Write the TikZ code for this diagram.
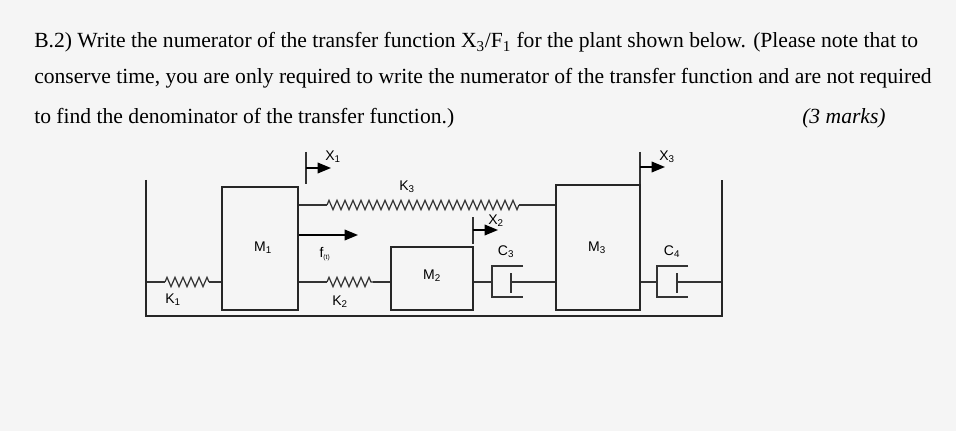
\documentclass[tikz,border=0pt]{standalone}
\usepackage{fontspec}
\setmainfont{Liberation Serif}
\newfontfamily\lab{Liberation Sans}
\usetikzlibrary{decorations.pathmorphing,arrows.meta}
\begin{document}
\begin{tikzpicture}[x=0.75pt,y=-0.75pt,
  ln/.style={line width=1.6pt,draw=black!85},
  mass/.style={draw=black!85,line width=1.8pt,inner sep=0},
  spr/.style={line width=0.9pt,draw=black!80,decorate,decoration={zigzag,segment length=6pt,amplitude=3.5pt}},
  wire/.style={line width=1pt,draw=black!80},
  tx/.style={font=\fontsize{16.2pt}{19pt}\selectfont,anchor=base west,inner sep=0},
  lb/.style={font=\lab\fontsize{10.5pt}{12pt}\selectfont,inner sep=0},
  arr/.style={line width=1pt,-{Triangle[length=10pt,width=8pt]}}]
\fill[white!96!black] (0,0) rectangle (956,431);
\useasboundingbox (0,0) rectangle (956,431);
\node[tx] (t1) at (34,48) {B.2) Write the numerator of the transfer function X\textsubscript{3}/F\textsubscript{1} for the plant shown below. (Please note that to};
\node[tx] (t2) at (34,84) {conserve time, you are only required to write the numerator of the transfer function and are not required};
\node[tx] (t3) at (34,124) {to find the denominator of the transfer function.)};
\node[tx] (t4) at (802,124) {\itshape(3 marks)};
% frame
\draw[ln] (146,180) -- (146,316) -- (722,316) -- (722,180);
% masses
\node[mass,minimum width=76*0.75pt,minimum height=123*0.75pt] (m1) at (260,248.5) {};
\node[mass,minimum width=82*0.75pt,minimum height=63*0.75pt] (m2) at (432,278.5) {};
\node[mass,minimum width=84*0.75pt,minimum height=125*0.75pt] (m3) at (598,247.5) {};
\node[lb] at (263,248) {M\textsubscript{1}};
\node[lb] at (432,276) {M\textsubscript{2}};
\node[lb] at (597,248) {M\textsubscript{3}};
% K1
\coordinate (w1) at (147,282);
\draw[wire] (w1) -- (165,282);
\draw[spr] (165,282) -- (209,282);
\draw[wire] (209,282) -- (m1.west |- 0,282);
\node[lb] at (173,300) {K\textsubscript{1}};
% K2
\draw[wire] (m1.east |- 0,282) -- (327,282);
\draw[spr] (327,282) -- (373,282);
\draw[wire] (373,282) -- (m2.west |- 0,282);
\node[lb] at (340,302) {K\textsubscript{2}};
% K3
\draw[wire] (m1.east |- 0,205) -- (327,205);
\draw[spr] (327,205) -- (519,205);
\draw[wire] (519,205) -- (m3.west |- 0,205);
\node[lb] at (407,187) {K\textsubscript{3}};
% force
\draw[arr] (m1.east |- 0,235) -- (358,235);
\node[lb] at (325,254) {f\textsubscript{\tiny(t)}};
% C3
\draw[wire] (m2.east |- 0,282) -- (492,282);
\draw[wire] (523,266) -- (492,266) -- (492,297) -- (523,297);
\draw[wire] (511,273) -- (511,293);
\draw[wire] (511,282) -- (m3.west |- 0,282);
\node[lb] at (506,252) {C\textsubscript{3}};
% C4
\draw[wire] (m3.east |- 0,282) -- (657,282);
\draw[wire] (688,266) -- (657,266) -- (657,297) -- (688,297);
\draw[wire] (677,273) -- (677,293);
\coordinate (w2) at (721,282);
\draw[wire] (677,282) -- (w2);
\node[lb] at (672,252) {C\textsubscript{4}};
% displacement markers
\draw[wire] (306,152) -- (306,184);
\draw[arr] (306,168) -- (331,168);
\node[lb] at (333,157) {X\textsubscript{1}};
\draw[wire] (473,217) -- (473,244);
\draw[arr] (473,230) -- (498,230);
\node[lb] at (496,221) {X\textsubscript{2}};
\draw[wire] (640,152) -- (640,184);
\draw[arr] (640,167) -- (665,167);
\node[lb] at (667,157) {X\textsubscript{3}};
\end{tikzpicture}
\end{document}
